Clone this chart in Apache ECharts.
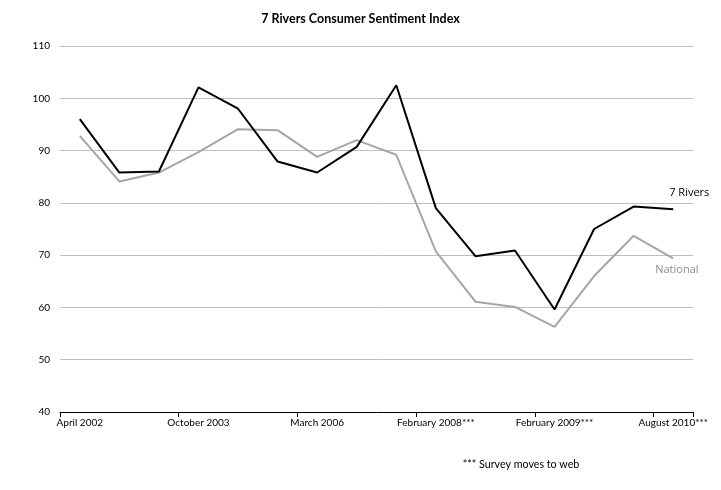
<!DOCTYPE html>
<html><head><meta charset="utf-8">
<script src="https://cdn.jsdelivr.net/npm/echarts@6/dist/echarts.min.js"></script>
<style>html,body{margin:0;padding:0;background:#fff}#c{width:721px;height:490px}</style>
</head><body><div id="c"></div>
<script>
var categories = ["April 2002","October 2002","April 2003","October 2003","April 2004","April 2005","March 2006","October 2006","April 2007","February 2008***","August 2008","October 2008","February 2009***","October 2009","April 2010","August 2010***"];
var riversValues = [96.0, 85.8, 86.0, 102.1, 98.0, 87.9, 85.8, 90.7, 102.5, 79.0, 69.8, 70.9, 59.6, 75.0, 79.3, 78.8];
var nationalValues = [92.8, 84.1, 85.8, 89.7, 94.1, 93.9, 88.8, 92.0, 89.2, 70.7, 61.1, 60.1, 56.3, 66.0, 73.7, 69.4];
var yTicks = [40, 50, 60, 70, 80, 90, 100, 110];

var font = 'Lato, "Open Sans", sans-serif';
var chart = echarts.init(document.getElementById('c'));
chart.setOption({
  animation: false,
  title: { text: '7 Rivers Consumer Sentiment Index', left: 'center', top: 7, textStyle: { fontFamily: font, fontSize: 12.5, fontWeight: 'bold', color: '#000' } },
  grid: { left: 60, right: 28, top: 46, bottom: 78 },
  xAxis: {
    type: 'category', data: categories, boundaryGap: true,
    axisLine: { lineStyle: { color: '#000', width: 1 } },
    axisTick: { show: true, length: 5, lineStyle: { color: '#000' } },
    axisLabel: { interval: 2, color: '#000', fontFamily: font, fontSize: 10, margin: 6 }
  },
  yAxis: {
    type: 'value', min: yTicks[0], max: yTicks[yTicks.length - 1], interval: 10,
    axisLine: { show: false }, axisTick: { show: false },
    splitLine: { lineStyle: { color: '#bfbfbf', width: 1 } },
    axisLabel: { color: '#000', fontFamily: font, fontSize: 10, margin: 10 }
  },
  graphic: [{ type: 'text', x: 521, y: 459, style: { text: '*** Survey moves to web', align: 'center', fontFamily: font, fontSize: 10.7, fill: '#000' } }],
  series: [
    { name: '7 Rivers', type: 'line', data: riversValues, symbol: 'none', lineStyle: { color: '#000', width: 2 }, itemStyle: { color: '#000' }, z: 3,
      endLabel: { show: true, formatter: '7 Rivers', color: '#000', fontFamily: '"Open Sans", sans-serif', fontSize: 11, offset: [-12, -16] } },
    { name: 'National', type: 'line', data: nationalValues, symbol: 'none', lineStyle: { color: '#a6a6a6', width: 2 }, itemStyle: { color: '#a6a6a6' }, z: 2,
      endLabel: { show: true, formatter: 'National', color: '#8c8c8c', fontFamily: '"Open Sans", sans-serif', fontSize: 11, offset: [-26, 12] } }
  ]
});
</script></body></html>
